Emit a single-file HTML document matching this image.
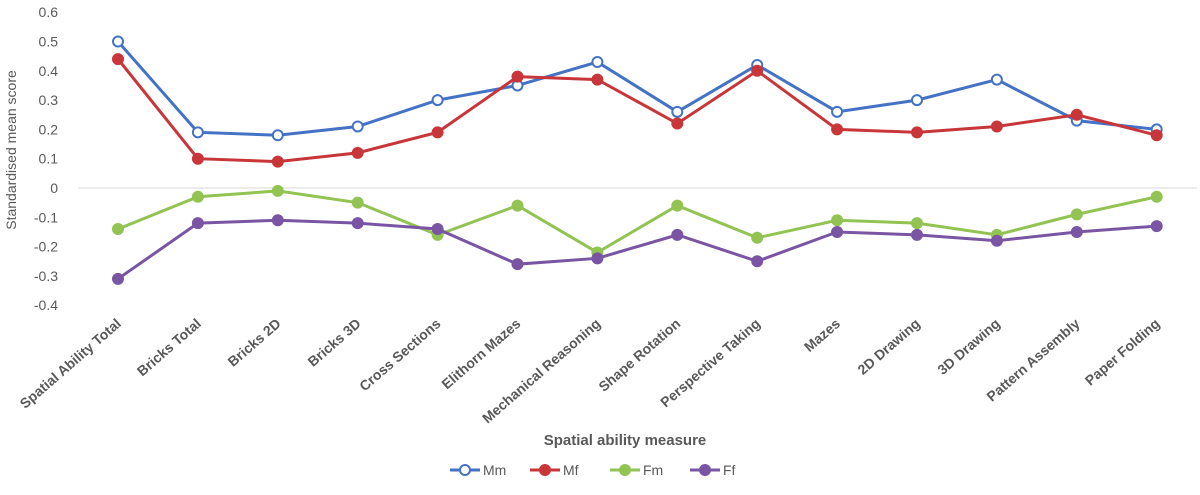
<!DOCTYPE html>
<html><head><meta charset="utf-8"><style>
body{margin:0;background:#fff;}
svg text{font-family:"Liberation Sans",sans-serif;fill:#595959;}
</style></head><body>
<svg id="chart" width="1200" height="490"></svg>
<script>
const categories=["Spatial Ability Total","Bricks Total","Bricks 2D","Bricks 3D","Cross Sections","Elithorn Mazes","Mechanical Reasoning","Shape Rotation","Perspective Taking","Mazes","2D Drawing","3D Drawing","Pattern Assembly","Paper Folding"];
const mm=[0.50,0.19,0.18,0.21,0.30,0.35,0.43,0.26,0.42,0.26,0.30,0.37,0.23,0.20];
const mf=[0.44,0.10,0.09,0.12,0.19,0.38,0.37,0.22,0.40,0.20,0.19,0.21,0.25,0.18];
const fm=[-0.14,-0.03,-0.01,-0.05,-0.16,-0.06,-0.22,-0.06,-0.17,-0.11,-0.12,-0.16,-0.09,-0.03];
const ff=[-0.31,-0.12,-0.11,-0.12,-0.14,-0.26,-0.24,-0.16,-0.25,-0.15,-0.16,-0.18,-0.15,-0.13];
const yTicks=[0.6,0.5,0.4,0.3,0.2,0.1,0,-0.1,-0.2,-0.3,-0.4];
const seriesNames=["Mm","Mf","Fm","Ff"];
const NS="http://www.w3.org/2000/svg";
const svg=document.getElementById('chart');
const x=i=>118+i*79.9;
const y=v=>188-v*293;
function mk(t,a,p){const e=document.createElementNS(NS,t);for(const k in a)e.setAttribute(k,a[k]);(p||svg).appendChild(e);return e;}
let zl=mk('line',{x1:78,x2:1197,y1:y(0),y2:y(0),stroke:'#d9d9d9','stroke-width':1});


yTicks.forEach(v=>{const t=mk('text',{x:58,y:y(v)+5,'text-anchor':'end','font-size':14});t.textContent=v===0?'0':v.toFixed(1);

});
let yt=mk('text',{transform:'translate(16,150) rotate(-90)','text-anchor':'middle','font-size':14});yt.textContent='Standardised mean score';


categories.forEach((c,i)=>{const t=mk('text',{transform:`translate(${x(i)+4},${325}) rotate(-41)`,'text-anchor':'end','font-size':14,'font-weight':'bold'});t.textContent=c;

});
let xt=mk('text',{x:625,y:445,'text-anchor':'middle','font-size':15,'font-weight':'bold'});xt.textContent='Spatial ability measure';


const data=[mm,mf,fm,ff];
const colors=['#4472c4','#c8363a','#92c353','#7a55a3'];
data.forEach((d,s)=>{
  const g=mk('g',{});
  
  
  mk('polyline',{points:d.map((v,i)=>x(i)+','+y(v)).join(' '),fill:'none',stroke:colors[s],'stroke-width':3},g);
  d.forEach((v,i)=>{const c=mk('circle',{cx:x(i),cy:y(v),r:5,fill:s===0?'#fff':colors[s],stroke:colors[s],'stroke-width':2},g);
  
  });
});
seriesNames.forEach((n,s)=>{const lx=450+s*80,ly=470;const g=mk('g',{});


mk('line',{x1:lx,x2:lx+30,y1:ly,y2:ly,stroke:colors[s],'stroke-width':3},g);
mk('circle',{cx:lx+15,cy:ly,r:5,fill:s===0?'#fff':colors[s],stroke:colors[s],'stroke-width':2},g);
const t=mk('text',{x:lx+33,y:ly+5,'font-size':14},g);t.textContent=n;});
</script>
</body></html>
